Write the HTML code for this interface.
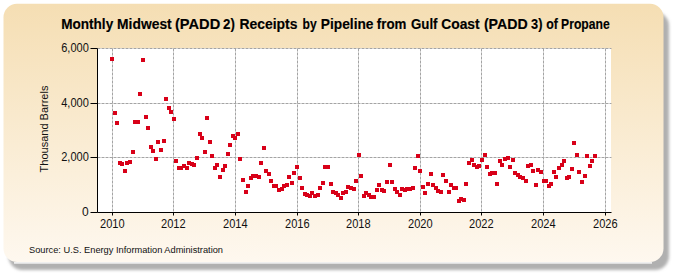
<!DOCTYPE html>
<html><head><meta charset="utf-8"><style>
html,body{margin:0;padding:0;background:#fff;width:675px;height:275px;overflow:hidden}
svg{display:block}
text{font-family:"Liberation Sans",sans-serif}
</style></head><body>
<svg width="675" height="275" viewBox="0 0 675 275">
<defs>
<linearGradient id="bg" x1="0" y1="0" x2="0" y2="1">
<stop offset="0" stop-color="#F5DEB3"/>
<stop offset="1" stop-color="#FEF8EF"/>
</linearGradient>
<filter id="sh" x="-5%" y="-5%" width="110%" height="115%"><feGaussianBlur stdDeviation="1.8"/></filter>
<filter id="pb" x="-2%" y="-2%" width="104%" height="104%"><feGaussianBlur stdDeviation="0.7"/></filter>
</defs>
<rect x="8.5" y="12" width="660.5" height="258" rx="14" fill="#b0b0b0" filter="url(#sh)"/>
<rect x="3.5" y="3.8" width="660" height="258.2" rx="13.5" fill="url(#bg)" filter="url(#pb)"/>
<path d="M14 262.9 H652" stroke="#fff" stroke-opacity="0.8" stroke-width="1.6"/>
<rect x="97" y="48" width="514" height="164" fill="#fff"/>
<g stroke="#a4a4a4" stroke-width="1" stroke-dasharray="3 1" transform="translate(0.5 0.5)">
<line x1="112" y1="48" x2="112" y2="212"/><line x1="173" y1="48" x2="173" y2="212"/><line x1="235" y1="48" x2="235" y2="212"/><line x1="297" y1="48" x2="297" y2="212"/><line x1="358" y1="48" x2="358" y2="212"/><line x1="420" y1="48" x2="420" y2="212"/><line x1="481" y1="48" x2="481" y2="212"/><line x1="543" y1="48" x2="543" y2="212"/><line x1="605" y1="48" x2="605" y2="212"/><line x1="97" y1="48" x2="611" y2="48"/><line x1="97" y1="103" x2="611" y2="103"/><line x1="97" y1="157" x2="611" y2="157"/>
</g>
<g fill="#D80018">
<rect x="110" y="57" width="4" height="4"/><rect x="113" y="111" width="4" height="4"/><rect x="115" y="121" width="4" height="4"/><rect x="118" y="161" width="4" height="4"/><rect x="120" y="162" width="4" height="4"/><rect x="123" y="169" width="4" height="4"/><rect x="125" y="161" width="4" height="4"/><rect x="128" y="160" width="4" height="4"/><rect x="131" y="150" width="4" height="4"/><rect x="133" y="120" width="4" height="4"/><rect x="136" y="120" width="4" height="4"/><rect x="138" y="92" width="4" height="4"/><rect x="141" y="58" width="4" height="4"/><rect x="144" y="115" width="4" height="4"/><rect x="146" y="126" width="4" height="4"/><rect x="149" y="145" width="4" height="4"/><rect x="151" y="149" width="4" height="4"/><rect x="154" y="157" width="4" height="4"/><rect x="156" y="140" width="4" height="4"/><rect x="159" y="148" width="4" height="4"/><rect x="162" y="139" width="4" height="4"/><rect x="164" y="97" width="4" height="4"/><rect x="167" y="106" width="4" height="4"/><rect x="169" y="110" width="4" height="4"/><rect x="172" y="117" width="4" height="4"/><rect x="174" y="159" width="4" height="4"/><rect x="177" y="166" width="4" height="4"/><rect x="179" y="166" width="4" height="4"/><rect x="182" y="164" width="4" height="4"/><rect x="185" y="166" width="4" height="4"/><rect x="187" y="161" width="4" height="4"/><rect x="190" y="162" width="4" height="4"/><rect x="192" y="163" width="4" height="4"/><rect x="195" y="156" width="4" height="4"/><rect x="198" y="132" width="4" height="4"/><rect x="200" y="136" width="4" height="4"/><rect x="203" y="150" width="4" height="4"/><rect x="205" y="116" width="4" height="4"/><rect x="208" y="140" width="4" height="4"/><rect x="210" y="154" width="4" height="4"/><rect x="213" y="166" width="4" height="4"/><rect x="215" y="163" width="4" height="4"/><rect x="218" y="175" width="4" height="4"/><rect x="221" y="168" width="4" height="4"/><rect x="223" y="164" width="4" height="4"/><rect x="226" y="152" width="4" height="4"/><rect x="228" y="143" width="4" height="4"/><rect x="231" y="134" width="4" height="4"/><rect x="233" y="136" width="4" height="4"/><rect x="236" y="132" width="4" height="4"/><rect x="238" y="157" width="4" height="4"/><rect x="241" y="178" width="4" height="4"/><rect x="244" y="190" width="4" height="4"/><rect x="246" y="184" width="4" height="4"/><rect x="249" y="176" width="4" height="4"/><rect x="251" y="174" width="4" height="4"/><rect x="254" y="174" width="4" height="4"/><rect x="257" y="175" width="4" height="4"/><rect x="259" y="161" width="4" height="4"/><rect x="262" y="146" width="4" height="4"/><rect x="264" y="169" width="4" height="4"/><rect x="267" y="172" width="4" height="4"/><rect x="269" y="179" width="4" height="4"/><rect x="272" y="184" width="4" height="4"/><rect x="274" y="184" width="4" height="4"/><rect x="277" y="188" width="4" height="4"/><rect x="280" y="187" width="4" height="4"/><rect x="282" y="184" width="4" height="4"/><rect x="285" y="183" width="4" height="4"/><rect x="287" y="175" width="4" height="4"/><rect x="290" y="181" width="4" height="4"/><rect x="292" y="171" width="4" height="4"/><rect x="295" y="165" width="4" height="4"/><rect x="298" y="176" width="4" height="4"/><rect x="300" y="186" width="4" height="4"/><rect x="303" y="192" width="4" height="4"/><rect x="305" y="193" width="4" height="4"/><rect x="308" y="194" width="4" height="4"/><rect x="310" y="191" width="4" height="4"/><rect x="313" y="194" width="4" height="4"/><rect x="316" y="193" width="4" height="4"/><rect x="318" y="186" width="4" height="4"/><rect x="321" y="181" width="4" height="4"/><rect x="323" y="165" width="4" height="4"/><rect x="326" y="165" width="4" height="4"/><rect x="329" y="182" width="4" height="4"/><rect x="331" y="190" width="4" height="4"/><rect x="334" y="191" width="4" height="4"/><rect x="336" y="193" width="4" height="4"/><rect x="339" y="196" width="4" height="4"/><rect x="341" y="191" width="4" height="4"/><rect x="344" y="190" width="4" height="4"/><rect x="346" y="185" width="4" height="4"/><rect x="349" y="186" width="4" height="4"/><rect x="352" y="187" width="4" height="4"/><rect x="354" y="179" width="4" height="4"/><rect x="357" y="153" width="4" height="4"/><rect x="359" y="174" width="4" height="4"/><rect x="362" y="194" width="4" height="4"/><rect x="364" y="191" width="4" height="4"/><rect x="367" y="193" width="4" height="4"/><rect x="369" y="195" width="4" height="4"/><rect x="372" y="195" width="4" height="4"/><rect x="375" y="188" width="4" height="4"/><rect x="377" y="183" width="4" height="4"/><rect x="380" y="188" width="4" height="4"/><rect x="382" y="189" width="4" height="4"/><rect x="385" y="180" width="4" height="4"/><rect x="388" y="163" width="4" height="4"/><rect x="390" y="180" width="4" height="4"/><rect x="393" y="187" width="4" height="4"/><rect x="395" y="190" width="4" height="4"/><rect x="398" y="193" width="4" height="4"/><rect x="400" y="187" width="4" height="4"/><rect x="403" y="188" width="4" height="4"/><rect x="405" y="187" width="4" height="4"/><rect x="408" y="187" width="4" height="4"/><rect x="411" y="186" width="4" height="4"/><rect x="413" y="166" width="4" height="4"/><rect x="416" y="154" width="4" height="4"/><rect x="418" y="169" width="4" height="4"/><rect x="421" y="185" width="4" height="4"/><rect x="423" y="191" width="4" height="4"/><rect x="426" y="182" width="4" height="4"/><rect x="429" y="172" width="4" height="4"/><rect x="431" y="183" width="4" height="4"/><rect x="434" y="186" width="4" height="4"/><rect x="436" y="189" width="4" height="4"/><rect x="439" y="190" width="4" height="4"/><rect x="441" y="173" width="4" height="4"/><rect x="444" y="179" width="4" height="4"/><rect x="447" y="190" width="4" height="4"/><rect x="449" y="183" width="4" height="4"/><rect x="452" y="186" width="4" height="4"/><rect x="454" y="186" width="4" height="4"/><rect x="457" y="199" width="4" height="4"/><rect x="459" y="197" width="4" height="4"/><rect x="462" y="198" width="4" height="4"/><rect x="464" y="182" width="4" height="4"/><rect x="467" y="161" width="4" height="4"/><rect x="470" y="158" width="4" height="4"/><rect x="472" y="163" width="4" height="4"/><rect x="475" y="165" width="4" height="4"/><rect x="477" y="164" width="4" height="4"/><rect x="480" y="158" width="4" height="4"/><rect x="483" y="153" width="4" height="4"/><rect x="485" y="165" width="4" height="4"/><rect x="488" y="172" width="4" height="4"/><rect x="490" y="171" width="4" height="4"/><rect x="493" y="171" width="4" height="4"/><rect x="495" y="182" width="4" height="4"/><rect x="498" y="159" width="4" height="4"/><rect x="500" y="163" width="4" height="4"/><rect x="503" y="157" width="4" height="4"/><rect x="506" y="156" width="4" height="4"/><rect x="508" y="165" width="4" height="4"/><rect x="511" y="158" width="4" height="4"/><rect x="513" y="171" width="4" height="4"/><rect x="516" y="173" width="4" height="4"/><rect x="518" y="175" width="4" height="4"/><rect x="521" y="176" width="4" height="4"/><rect x="524" y="179" width="4" height="4"/><rect x="526" y="164" width="4" height="4"/><rect x="529" y="163" width="4" height="4"/><rect x="531" y="169" width="4" height="4"/><rect x="534" y="183" width="4" height="4"/><rect x="536" y="168" width="4" height="4"/><rect x="539" y="170" width="4" height="4"/><rect x="542" y="179" width="4" height="4"/><rect x="544" y="179" width="4" height="4"/><rect x="547" y="184" width="4" height="4"/><rect x="549" y="182" width="4" height="4"/><rect x="552" y="170" width="4" height="4"/><rect x="554" y="175" width="4" height="4"/><rect x="557" y="166" width="4" height="4"/><rect x="560" y="163" width="4" height="4"/><rect x="562" y="159" width="4" height="4"/><rect x="565" y="176" width="4" height="4"/><rect x="567" y="175" width="4" height="4"/><rect x="570" y="167" width="4" height="4"/><rect x="572" y="141" width="4" height="4"/><rect x="575" y="153" width="4" height="4"/><rect x="577" y="170" width="4" height="4"/><rect x="580" y="180" width="4" height="4"/><rect x="583" y="174" width="4" height="4"/><rect x="585" y="154" width="4" height="4"/><rect x="588" y="164" width="4" height="4"/><rect x="590" y="159" width="4" height="4"/><rect x="593" y="154" width="4" height="4"/>
</g>
<g stroke="#000" stroke-width="1" transform="translate(0.5 0.5)">
<line x1="97" y1="48" x2="97" y2="212"/>
<line x1="97" y1="212" x2="611" y2="212"/>
<line x1="90" y1="48" x2="97" y2="48"/><line x1="90" y1="103" x2="97" y2="103"/><line x1="90" y1="157" x2="97" y2="157"/><line x1="90" y1="212" x2="97" y2="212"/><line x1="112" y1="212" x2="112" y2="215"/><line x1="173" y1="212" x2="173" y2="215"/><line x1="235" y1="212" x2="235" y2="215"/><line x1="297" y1="212" x2="297" y2="215"/><line x1="358" y1="212" x2="358" y2="215"/><line x1="420" y1="212" x2="420" y2="215"/><line x1="481" y1="212" x2="481" y2="215"/><line x1="543" y1="212" x2="543" y2="215"/><line x1="605" y1="212" x2="605" y2="215"/>
</g>
<g font-size="12" fill="#111">
<text x="88.8" y="52" text-anchor="end" textLength="27.6" lengthAdjust="spacingAndGlyphs">6,000</text><text x="88.8" y="107" text-anchor="end" textLength="27.6" lengthAdjust="spacingAndGlyphs">4,000</text><text x="88.8" y="161" text-anchor="end" textLength="27.6" lengthAdjust="spacingAndGlyphs">2,000</text><text x="88.8" y="216" text-anchor="end">0</text><text x="112.3" y="228" text-anchor="middle" textLength="24.6" lengthAdjust="spacingAndGlyphs">2010</text><text x="173.3" y="228" text-anchor="middle" textLength="24.6" lengthAdjust="spacingAndGlyphs">2012</text><text x="235.3" y="228" text-anchor="middle" textLength="24.6" lengthAdjust="spacingAndGlyphs">2014</text><text x="297.3" y="228" text-anchor="middle" textLength="24.6" lengthAdjust="spacingAndGlyphs">2016</text><text x="358.3" y="228" text-anchor="middle" textLength="24.6" lengthAdjust="spacingAndGlyphs">2018</text><text x="420.3" y="228" text-anchor="middle" textLength="24.6" lengthAdjust="spacingAndGlyphs">2020</text><text x="481.3" y="228" text-anchor="middle" textLength="24.6" lengthAdjust="spacingAndGlyphs">2022</text><text x="543.3" y="228" text-anchor="middle" textLength="24.6" lengthAdjust="spacingAndGlyphs">2024</text><text x="605.3" y="228" text-anchor="middle" textLength="24.6" lengthAdjust="spacingAndGlyphs">2026</text>
</g>
<g font-size="14.6" font-weight="bold" fill="#000" stroke="#000" stroke-width="0.15"><text x="61.2" y="28.6" textLength="52.0" lengthAdjust="spacingAndGlyphs">Monthly</text><text x="117.1" y="28.6" textLength="54.6" lengthAdjust="spacingAndGlyphs">Midwest</text><text x="175.0" y="28.6" textLength="45.2" lengthAdjust="spacingAndGlyphs">(PADD</text><text x="223.0" y="28.6" textLength="11.8" lengthAdjust="spacingAndGlyphs">2)</text><text x="239.4" y="28.6" textLength="58.1" lengthAdjust="spacingAndGlyphs">Receipts</text><text x="302.5" y="28.6" textLength="14.1" lengthAdjust="spacingAndGlyphs">by</text><text x="320.8" y="28.6" textLength="52.7" lengthAdjust="spacingAndGlyphs">Pipeline</text><text x="376.8" y="28.6" textLength="29.6" lengthAdjust="spacingAndGlyphs">from</text><text x="411.0" y="28.6" textLength="26.5" lengthAdjust="spacingAndGlyphs">Gulf</text><text x="441.2" y="28.6" textLength="38.5" lengthAdjust="spacingAndGlyphs">Coast</text><text x="483.9" y="28.6" textLength="43.8" lengthAdjust="spacingAndGlyphs">(PADD</text><text x="531.0" y="28.6" textLength="11.4" lengthAdjust="spacingAndGlyphs">3)</text><text x="546.3" y="28.6" textLength="11.6" lengthAdjust="spacingAndGlyphs">of</text><text x="561.1" y="28.6" textLength="48.6" lengthAdjust="spacingAndGlyphs">Propane</text></g>
<text transform="translate(48 129) rotate(-90)" text-anchor="middle" font-size="11" fill="#111">Thousand Barrels</text>
<text x="29" y="253" font-size="9.6" fill="#111" textLength="194" lengthAdjust="spacingAndGlyphs">Source: U.S. Energy Information Administration</text>
</svg>
</body></html>
